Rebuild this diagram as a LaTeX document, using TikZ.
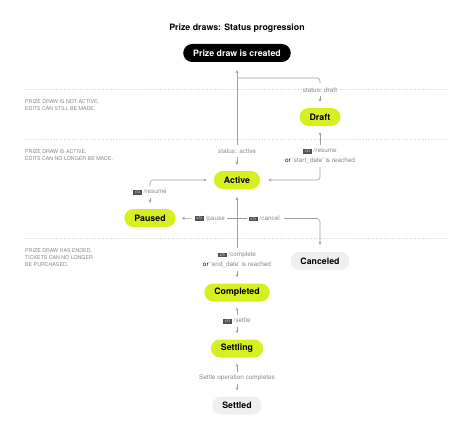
\documentclass[tikz,border=0pt]{standalone}
\usepackage{fontspec}
\setmainfont{TeX Gyre Heros}
\usepackage{xcolor}
\usetikzlibrary{arrows.meta, positioning}

\definecolor{prizelime}{RGB}{213,240,30}
\definecolor{softgray}{RGB}{239,239,239}
\definecolor{labelgray}{RGB}{135,135,135}
\definecolor{linegray}{RGB}{160,160,160}
\definecolor{rulegray}{RGB}{212,212,212}
\definecolor{tagdark}{RGB}{80,80,80}

% badge </>
\newcommand\apitag{{\setlength\fboxsep{0.6pt}\raisebox{0.2pt}{\colorbox{tagdark}{\textcolor{white!80!tagdark}{\fontsize{4.2}{4.5}\selectfont\bfseries\,</>\,}}}}}

\tikzset{
  pill/.style={rounded corners=9pt, minimum height=18pt, inner xsep=10pt, inner ysep=0pt, font=\fontsize{8.8}{10}\selectfont\bfseries},
  greenpill/.style={pill, fill=prizelime},
  graypill/.style={pill, fill=softgray},
  blackpill/.style={pill, fill=black, text=white},
  lbl/.style={text=labelgray, font=\fontsize{6.4}{9.8}\selectfont, inner sep=1pt, align=center},
  note/.style={text=labelgray, font=\fontsize{5.3}{7}\selectfont, anchor=north west, align=left, inner sep=0pt},
  flow/.style={draw=linegray, line width=0.6pt, -{Stealth[length=3pt,width=3pt]}},
  stub/.style={flow, shorten <=2pt, shorten >=6pt},
  sep/.style={draw=rulegray, dotted, line width=0.6pt}
}

\begin{document}
\begin{tikzpicture}[x=1pt, y=-1pt]
    \useasboundingbox (0,0) rectangle (474,444);

    % Separatori
    \draw[sep] (25,89) -- (448,89);
    \draw[sep] (25,139) -- (448,139);
    \draw[sep] (25,238) -- (448,238);

    \node[note] (notedraft) at (25,99.5) {PRIZE DRAW IS NOT ACTIVE,\\EDITS CAN STILL BE MADE.};
    \node[note] (noteactive) at (25,149.5) {PRIZE DRAW IS ACTIVE,\\EDITS CAN NO LONGER BE MADE.};
    \node[note] (noteended) at (25,248.5) {PRIZE DRAW HAS ENDED.\\TICKETS CAN NO LONGER\\BE PURCHASED.};

    % Titolo
    \node[font=\fontsize{8.8}{10}\selectfont\bfseries] (title) at (237,28) {Prize draws: Status progression};

    % Stati
    \node[blackpill] (created) at (237,53) {Prize draw is created};
    \node[greenpill] (draft) at (320,117) {Draft};
    \node[greenpill] (active) at (237,180) {Active};
    \node[greenpill] (paused) at (150,218) {Paused};
    \node[graypill] (canceled) at (320,261) {Canceled};
    \node[greenpill] (completed) at (237,292.5) {Completed};
    \node[greenpill] (settling) at (237,348.5) {Settling};
    \node[graypill] (settled) at (237,405.5) {Settled};

    % Etichette
    \node[lbl] (lbldraft) at (320,90) {status: draft};
    \node[lbl] (lblactive) at (237,151) {status: active};
    \node[lbl] (lblresume) at (320,156) {\apitag\ /resume\\\textcolor{black}{or} `start\_date' is reached};
    \node[lbl] (lblpresume) at (150,192) {\apitag\ /resume};
    \node[lbl] (lblpause) at (210,218.5) {\apitag\ /pause};
    \node[lbl] (lblcancel) at (264.5,218.5) {\apitag\ /cancel};
    \node[lbl] (lblcomplete) at (237,259.5) {\apitag\ /complete\\\textcolor{black}{or} `end\_date' is reached};
    \node[lbl] (lblsettle) at (237,321) {\apitag\ /settle};
    \node[lbl] (lblsettled) at (237,378) {Settle operation completes};

    % Frecce
    \coordinate (split) at (237,78);
    \draw[flow, shorten <=2.5pt, shorten >=8pt] (lblactive.north) -- (created.south);
    \draw[draw=linegray, line width=0.6pt, rounded corners=3pt, shorten >=3pt] (split) -| (lbldraft.north);
    \draw[stub] (lbldraft) -- (draft);
    \draw[stub] (lblactive) -- (active);

    \draw[stub] (lblresume) -- (draft);
    \draw[flow, rounded corners=3pt, shorten <=2pt, shorten >=8pt] (lblresume.south) |- (active.east);

    \draw[flow, rounded corners=3pt, shorten <=2pt, shorten >=7pt] (lblpresume.north) |- (active.west);
    \draw[stub] (lblpresume) -- (paused);

    \draw[stub] (lblpause) -- (paused);
    \draw[draw=linegray, line width=0.6pt, shorten <=1pt, shorten >=1pt] (lblcancel.west) -- (lblpause.east);
    \draw[flow, rounded corners=3pt, shorten <=3pt, shorten >=7pt] (lblcancel.east) -| (canceled.north);

    \draw[flow, shorten <=3pt, shorten >=8pt] (lblcomplete.north) -- (active.south);
    \draw[stub] (lblcomplete) -- (completed);

    \draw[stub] (lblsettle) -- (completed);
    \draw[stub] (lblsettle) -- (settling);

    \draw[stub] (lblsettled) -- (settling);
    \draw[stub] (lblsettled) -- (settled);
\end{tikzpicture}
\end{document}
